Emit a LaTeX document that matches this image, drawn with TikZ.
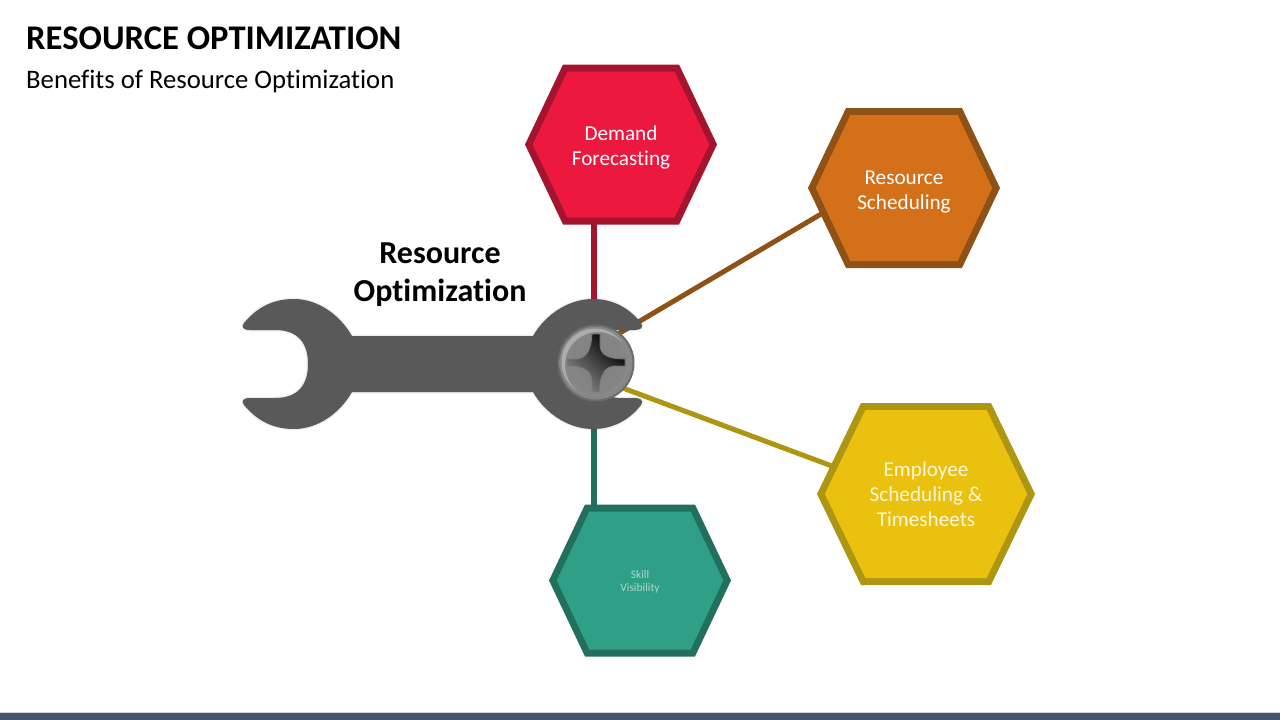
\documentclass[tikz,border=0pt]{standalone}
\usepackage{fontspec}
\setmainfont[Ligatures={NoCommon},RawFeature={-liga;-clig;-dlig}]{Carlito}
\usetikzlibrary{calc,backgrounds}
\definecolor{redF}{HTML}{EC183E}\definecolor{redB}{HTML}{A5142F}
\definecolor{oraF}{HTML}{D5701A}\definecolor{oraB}{HTML}{8F5216}
\definecolor{yelF}{HTML}{E9C10E}\definecolor{yelB}{HTML}{AD9612}
\definecolor{greF}{HTML}{2F9F86}\definecolor{greB}{HTML}{226F5E}
\definecolor{wrench}{HTML}{595959}
\definecolor{barC}{HTML}{44546A}
\newcommand{\hexa}[9]{%
 \pgfmathsetmacro{\hA}{#4-7*sqrt((#4-#6)*(#4-#6)+#5*#5)/#5}%
 \pgfmathsetmacro{\hB}{#5-7}%
 \pgfmathsetmacro{\hC}{\hA-(#4-#6)*\hB/#5}%
 \fill[#8] (#2-#4,#3) -- (#2-#6,#3-#5) -- (#2+#6,#3-#5) -- (#2+#4,#3) -- (#2+#6,#3+#5) -- (#2-#6,#3+#5) -- cycle;
 \fill[#7] (#2-\hA,#3) -- (#2-\hC,#3-\hB) -- (#2+\hC,#3-\hB) -- (#2+\hA,#3) -- (#2+\hC,#3+\hB) -- (#2-\hC,#3+\hB) -- cycle;
 \node[#9] (#1) at (#2,#3) {};
}
\tikzset{
 hextext/.style={align=center,text=white,font=\fontsize{21.2}{25}\selectfont,inner sep=0pt},
 headtext/.style={align=center,text=black,font=\fontsize{32}{38}\selectfont\bfseries,inner sep=0pt},
 link/.style={line width=5pt},
 bare/.style={inner sep=0pt,minimum size=0pt}
}
\newcommand{\wrenchpath}{(352,336) -- (533,336) .. controls (545,315) and (568,299) .. (593,299) .. controls (615,299) and (631,310) .. (641,323) .. controls (644,327) and (641,330) .. (635,330) -- (618,330) .. controls (590,330) and (590,398) .. (618,398) -- (635,398) .. controls (641,398) and (644,401) .. (641,405) .. controls (631,418) and (615,429) .. (593,429) .. controls (568,429) and (545,413) .. (533,392) -- (352,392) .. controls (340,413) and (318,429) .. (294,429) .. controls (270,429) and (255,418) .. (244,405) .. controls (241,401) and (243,398) .. (250,398) -- (275,398) .. controls (298,398) and (308,385) .. (308,364) .. controls (308,343) and (298,330) .. (275,330) -- (250,330) .. controls (243,330) and (241,327) .. (244,323) .. controls (255,310) and (270,299) .. (294,299) .. controls (318,299) and (340,315) .. (352,336) -- cycle}
\begin{document}
\begin{tikzpicture}[x=1pt,y=-1pt]
\useasboundingbox (0,0) rectangle (1280,720);
\fill[barC] (0,713) rectangle (1280,720);
\fill[barC!25] (0,712) rectangle (1280,713);
\node[anchor=west,inner sep=0pt,font=\fontsize{34.6}{38}\selectfont\bfseries] (title) at (26,38.5) {RESOURCE OPTIMIZATION};
\node[anchor=west,inner sep=0pt,font=\fontsize{26.7}{30}\selectfont] (subtitle) at (26,81) {Benefits of Resource Optimization};
\hexa{demand}{621}{144.5}{96}{80}{58}{redF}{redB}{bare}
\hexa{sched}{904}{188}{96}{80}{58}{oraF}{oraB}{bare}
\hexa{employ}{926}{494}{109}{91}{65}{yelF}{yelB}{bare}
\hexa{skill}{640}{580.5}{91}{76}{55}{greF}{greB}{bare}
\node[hextext,yshift=-3pt] at (demand) {Demand\\Forecasting};
\node[hextext,yshift=-4pt] at (sched) {Resource\\Scheduling};
\node[hextext,text=white!85!yelF,yshift=-.5pt] at (employ) {Employee\\Scheduling \&\\Timesheets};
\node[hextext,text=white!60!greF,font=\fontsize{11.5}{13}\selectfont,yshift=-1pt] at (skill) {Skill\\Visibility};
\node[headtext,yshift=-3.5pt] (label) at (440,271) {Resource\\Optimization};
% wrench
\foreach \w/\o in {4/.02,2.5/.03,1/.04}{
\draw[black,opacity=\o,line width=\w pt,line join=round] \wrenchpath;}
\fill[wrench] \wrenchpath;
% bolt
\node[circle,minimum size=77pt,inner sep=0pt,fill=black!58] (bolt) at (596,363) {};
\shade[inner color=black!50,outer color=black!47] (596,363) circle (36.5);
\begin{scope}
\clip (595,362) circle (33.5);
\fill[black!32,even odd rule] (595,362) circle (33.5) (598,365) circle (33);
\end{scope}
\path[left color=black,right color=black!47,shading angle=-45,draw=black!52,line width=.7pt]
 (592,334) -- (600,334) -- (600,346) .. controls (601,354) and (606,359) .. (625,359) -- (625,366) -- (614,366) .. controls (606,367) and (600,372) .. (599,392) -- (592,392) -- (592,380) .. controls (590,371) and (586,366) .. (567,366) -- (567,359) -- (578,359) .. controls (586,357) and (591,352) .. (592,334) -- cycle;
% connectors
\coordinate (demandPort) at ($(demand.center)+(-27,60)$);
\coordinate (skillPort) at ($(skill.center)+(-46,-56)$);
\coordinate (schedPort) at ($(sched.center)+(-60,12.5)$);
\coordinate (employPort) at ($(employ.center)+(-70,-19)$);
\coordinate (schedHub) at ($(bolt.center)+(0,-16)$);
\coordinate (employHub) at ($(bolt.center)+(0,15)$);
\begin{pgfonlayer}{background}
\fill[white] (0,0) rectangle (1280,712);
\draw[link,line width=5.5pt,redB] (demandPort) -- (demandPort |- bolt.center);
\draw[link,line width=5.5pt,greB] (skillPort) -- (skillPort |- bolt.center);
\draw[link,oraB] (schedPort) -- (schedHub);
\draw[link,yelB] (employPort) -- (employHub);
\end{pgfonlayer}
\end{tikzpicture}
\end{document}
